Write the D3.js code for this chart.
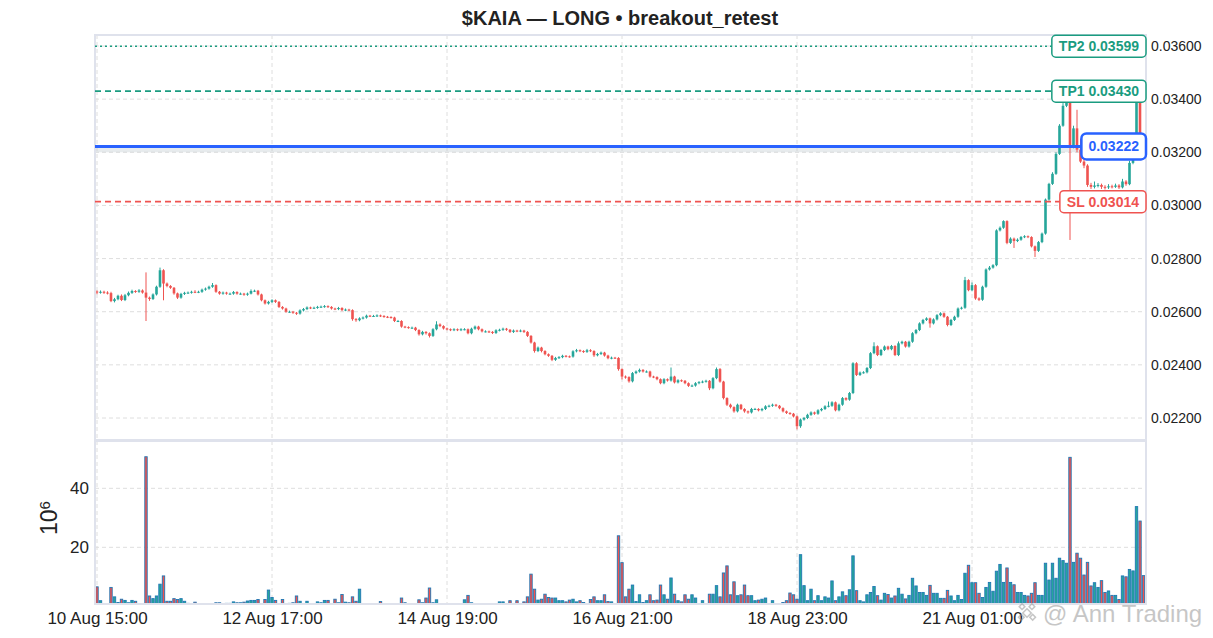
<!DOCTYPE html>
<html>
<head>
<meta charset="utf-8">
<script src="https://cdn.jsdelivr.net/npm/d3@7"></script>
<style>
body { margin: 0; background: #fff; font-family: "Liberation Sans", Arial, sans-serif; }
</style>
</head>
<body>
<script>

// hourly candles from 10 Aug 15:00, prices in units of 0.00001
var PRICE_UNIT = 1e-5;

var openP = [
2676,2673,2675,2672,2670,2640,2647,2660,2644,2662, 2671,2678,2675,2680,2672,2653,2648,2665,2694,2756,
2706,2697,2690,2669,2653,2667,2671,2672,2675,2674, 2675,2683,2687,2694,2700,2675,2668,2672,2668,2668,
2674,2668,2668,2664,2668,2678,2679,2665,2643,2631, 2637,2643,2637,2618,2612,2600,2600,2596,2593,2605,
2610,2616,2614,2615,2618,2619,2621,2618,2612,2610, 2614,2606,2608,2606,2572,2568,2575,2578,2585,2584,
2584,2586,2584,2581,2580,2578,2565,2565,2544,2542, 2540,2540,2531,2515,2524,2519,2509,2534,2552,2546,
2537,2534,2531,2534,2531,2534,2534,2519,2536,2544, 2534,2526,2526,2524,2520,2530,2532,2536,2532,2524,
2529,2527,2529,2524,2509,2484,2452,2465,2452,2440, 2434,2419,2426,2429,2434,2432,2431,2451,2455,2452,
2449,2455,2452,2436,2441,2446,2435,2425,2427,2426, 2384,2356,2354,2338,2369,2375,2381,2375,2375,2356,
2354,2346,2331,2346,2341,2356,2334,2342,2340,2331, 2321,2322,2331,2335,2337,2340,2312,2350,2384,2337,
2275,2250,2241,2225,2250,2234,2225,2221,2234,2234, 2229,2234,2244,2246,2250,2246,2237,2225,2219,2216,
2206,2169,2194,2200,2212,2221,2216,2229,2234,2244, 2246,2259,2229,2250,2275,2269,2294,2406,2362,2371,
2372,2388,2444,2470,2437,2456,2469,2459,2471,2437, 2481,2487,2469,2487,2519,2531,2556,2569,2575,2556,
2571,2587,2594,2581,2550,2569,2581,2612,2615,2719, 2681,2700,2650,2645,2694,2759,2766,2775,2906,2916,
2941,2859,2875,2866,2871,2881,2884,2881,2846,2829, 2862,2894,3022,3081,3119,3194,3300,3375,3400,3222,
3290,3210,3165,3150,3077,3070,3075,3077,3070,3068, 3072,3070,3075,3068,3090,3080,3160,3185,3400,3195
];

var highP = [
2680,2680,2679,2677,2675,2652,2664,2665,2667,2676, 2683,2681,2685,2684,2748,2657,2669,2698,2766,2760,
2710,2700,2693,2672,2671,2675,2676,2679,2681,2679, 2687,2691,2698,2708,2703,2678,2676,2675,2672,2678,
2677,2672,2671,2672,2684,2683,2682,2668,2646,2641, 2647,2646,2640,2621,2615,2604,2603,2599,2609,2614,
2620,2619,2619,2622,2623,2625,2624,2621,2615,2618, 2617,2612,2611,2609,2576,2579,2582,2589,2588,2588,
2590,2589,2587,2584,2583,2581,2569,2568,2547,2545, 2544,2543,2534,2528,2527,2522,2538,2564,2556,2549,
2540,2537,2538,2537,2538,2538,2537,2540,2548,2547, 2537,2530,2529,2527,2534,2536,2540,2539,2535,2533,
2532,2533,2532,2527,2512,2487,2469,2468,2455,2443, 2437,2430,2433,2438,2437,2435,2455,2460,2458,2455,
2460,2459,2455,2445,2450,2449,2438,2431,2430,2429, 2387,2360,2357,2373,2379,2386,2384,2379,2378,2359,
2357,2349,2350,2349,2390,2359,2346,2345,2343,2334, 2326,2335,2339,2341,2344,2343,2354,2390,2388,2340,
2278,2254,2244,2254,2253,2237,2228,2238,2238,2237, 2238,2248,2250,2254,2253,2249,2240,2228,2222,2219,
2209,2198,2204,2216,2225,2224,2233,2238,2248,2262, 2263,2262,2254,2279,2278,2298,2410,2410,2375,2376,
2392,2448,2485,2473,2460,2473,2472,2475,2474,2488, 2491,2490,2491,2523,2535,2560,2573,2579,2578,2575,
2591,2598,2597,2584,2573,2585,2616,2619,2731,2722, 2710,2704,2654,2698,2763,2772,2779,2910,2921,2944,
2944,2880,2879,2876,2885,2888,2887,2884,2849,2866, 2898,3026,3085,3125,3200,3306,3385,3440,3420,3300,
3360,3250,3175,3155,3085,3090,3084,3082,3076,3080, 3078,3082,3080,3100,3095,3168,3200,3420,3405,3205
];

var lowP = [
2666,2668,2667,2665,2636,2635,2643,2640,2640,2658, 2667,2671,2671,2668,2565,2641,2644,2661,2690,2643,
2692,2686,2664,2648,2649,2663,2667,2668,2670,2670, 2671,2679,2683,2690,2671,2664,2664,2664,2664,2664,
2664,2664,2660,2660,2665,2674,2661,2639,2627,2627, 2633,2633,2614,2608,2596,2596,2592,2588,2589,2601,
2606,2610,2610,2611,2614,2615,2614,2608,2606,2606, 2602,2602,2602,2566,2562,2564,2571,2574,2580,2580,
2580,2580,2577,2576,2574,2561,2561,2540,2538,2536, 2535,2527,2510,2511,2514,2503,2505,2530,2542,2533,
2530,2527,2527,2527,2527,2530,2515,2515,2532,2530, 2522,2522,2520,2516,2516,2526,2528,2528,2520,2520,
2523,2523,2520,2505,2480,2446,2448,2447,2436,2430, 2414,2415,2422,2425,2428,2427,2427,2447,2448,2445,
2445,2448,2430,2432,2437,2431,2421,2421,2422,2378, 2345,2348,2333,2334,2365,2371,2371,2371,2352,2350,
2342,2327,2327,2337,2337,2330,2330,2336,2327,2317, 2317,2318,2327,2331,2333,2305,2308,2346,2333,2270,
2245,2236,2220,2221,2230,2220,2216,2217,2230,2225, 2225,2230,2240,2242,2242,2233,2221,2215,2212,2202,
2157,2163,2190,2196,2208,2212,2212,2225,2230,2240, 2242,2225,2225,2246,2265,2265,2290,2358,2358,2367,
2368,2384,2440,2433,2433,2452,2455,2455,2433,2433, 2477,2465,2465,2483,2515,2527,2552,2565,2540,2552,
2567,2583,2577,2545,2546,2565,2577,2608,2611,2677, 2677,2645,2640,2641,2690,2755,2762,2771,2902,2912,
2854,2855,2840,2862,2867,2877,2877,2842,2806,2825, 2858,2890,3018,3077,3115,3190,3296,3370,2870,3215,
3200,3160,3140,3070,3062,3064,3068,3062,3060,3062, 3064,3066,3062,3064,3074,3076,3155,3180,3190,3185
];

var closeP = [
2673,2675,2672,2670,2640,2647,2660,2644,2662,2671, 2678,2675,2680,2672,2653,2648,2665,2694,2756,2706,
2697,2690,2669,2653,2667,2671,2672,2675,2674,2675, 2683,2687,2694,2700,2675,2668,2672,2668,2668,2674,
2668,2668,2664,2668,2678,2679,2665,2643,2631,2637, 2643,2637,2618,2612,2600,2600,2596,2593,2605,2610,
2616,2614,2615,2618,2619,2621,2618,2612,2610,2614, 2606,2608,2606,2572,2568,2575,2578,2585,2584,2584,
2586,2584,2581,2580,2578,2565,2565,2544,2542,2540, 2540,2531,2515,2524,2519,2509,2534,2552,2546,2537,
2534,2531,2534,2531,2534,2534,2519,2536,2544,2534, 2526,2526,2524,2520,2530,2532,2536,2532,2524,2529,
2527,2529,2524,2509,2484,2452,2465,2452,2440,2434, 2419,2426,2429,2434,2432,2431,2451,2455,2452,2449,
2455,2452,2436,2441,2446,2435,2425,2427,2426,2384, 2356,2354,2338,2369,2375,2381,2375,2375,2356,2354,
2346,2331,2346,2341,2356,2334,2342,2340,2331,2321, 2322,2331,2335,2337,2340,2312,2350,2384,2337,2275,
2250,2241,2225,2250,2234,2225,2221,2234,2234,2229, 2234,2244,2246,2250,2246,2237,2225,2219,2216,2206,
2169,2194,2200,2212,2221,2216,2229,2234,2244,2246, 2259,2229,2250,2275,2269,2294,2406,2362,2371,2372,
2388,2444,2470,2437,2456,2469,2459,2471,2437,2481, 2487,2469,2487,2519,2531,2556,2569,2575,2556,2571,
2587,2594,2581,2550,2569,2581,2612,2615,2719,2681, 2700,2650,2645,2694,2759,2766,2775,2906,2916,2941,
2859,2875,2866,2871,2881,2884,2881,2846,2829,2862, 2894,3022,3081,3119,3194,3300,3375,3400,3222,3290,
3210,3165,3150,3077,3070,3075,3077,3070,3068,3072, 3070,3075,3068,3090,3080,3160,3185,3400,3195,3192
];

// volume in millions
var volume = [
6.6,1.9,0.3,0.3,6.4,3.2,1.3,2.4,2.0,1.2, 2.0,1.7,0.3,0.3,50.7,3.5,2.6,3.5,7.5,10.3,
1.7,1.7,2.6,2.3,2.6,1.7,1.0,0.2,1.4,0.8, 0.5,0.4,0.5,0.6,1.2,1.2,0.6,1.0,1.0,1.5,
1.2,1.2,1.4,1.8,2.0,2.0,2.3,0.3,2.3,5.5, 3.0,2.0,0.8,2.3,0.2,1.0,1.2,3.5,1.7,0.5,
1.7,0.5,0.5,1.5,1.2,2.0,2.0,0.5,2.4,1.2, 4.0,1.4,1.2,3.2,1.7,5.8,0.4,0.4,0.6,0.5,
0.6,1.6,0.5,0.5,0.4,0.5,0.6,2.8,1.2,0.6, 0.8,0.5,2.2,1.2,2.8,6.2,1.2,2.2,0.4,0.5,
0.4,0.4,0.6,0.5,0.7,2.2,3.7,1.2,0.5,0.6, 0.5,0.4,0.5,0.6,0.8,1.5,1.5,0.8,1.9,0.8,
1.9,0.8,1.5,3.2,10.9,5.8,2.1,2.4,4.1,3.0, 2.8,2.8,1.9,1.9,1.5,2.1,2.4,1.5,1.9,1.3,
0.8,2.3,3.2,1.9,1.9,3.9,1.6,1.5,0.8,23.9, 14.8,3.2,5.8,7.2,1.6,3.9,1.3,1.9,3.9,1.9,
2.1,7.2,3.9,2.4,9.6,4.1,1.9,1.5,3.9,2.4, 3.9,2.8,0.6,1.9,0.5,4.1,4.1,7.0,3.2,11.3,
13.7,3.9,8.3,3.6,3.9,7.2,3.6,3.6,1.9,2.1, 2.4,2.8,0.4,1.9,0.5,0.6,1.3,1.9,4.5,3.9,
2.4,17.5,7.0,1.9,5.8,1.9,3.6,1.9,3.2,2.8, 8.6,1.9,3.2,4.9,3.6,5.6,17.1,5.3,1.9,1.5,
3.9,4.7,6.7,3.6,2.1,4.4,4.0,2.8,3.5,6.1, 4.1,2.5,3.7,9.5,6.9,4.7,4.7,3.7,7.1,4.4,
4.4,2.7,2.7,5.4,3.5,1.9,3.7,2.3,11.2,13.9, 8.0,8.0,4.4,3.0,6.4,8.1,5.1,11.9,14.2,8.1,
13.0,8.1,7.3,4.7,4.7,3.7,3.5,4.4,8.0,3.7, 3.7,14.6,8.9,14.6,9.5,16.3,15.5,14.6,50.5,14.9,
18.0,16.3,10.6,14.9,6.9,8.0,6.4,8.7,4.7,5.2, 3.7,3.7,2.3,10.3,10.0,12.5,12.0,33.8,28.9,10.4
];

var tickIdx = [0, 50, 100, 150, 200, 250];
var tickLabels = ["10 Aug 15:00", "12 Aug 17:00", "14 Aug 19:00", "16 Aug 21:00", "18 Aug 23:00", "21 Aug 01:00"];
var priceTicks = [0.022, 0.024, 0.026, 0.028, 0.030, 0.032, 0.034, 0.036];
var volTicks = [20, 40];

var levelNames = ["TP2", "TP1", "", "SL"];
var levelValues = [0.03599, 0.03430, 0.03222, 0.03014];
var entryZoneLow = 0.03200;

var up = "#26a69a", down = "#ef5350", teal = "#1a9c80", blue = "#2962ff";

var width = 1213, height = 638,
    left = 95, right = 1146,
    pTop = 35, pBot = 440,
    vTop = 441, vBot = 604;

var candles = closeP.map(function (c, i) {
    return { i: i, o: openP[i] * PRICE_UNIT, h: highP[i] * PRICE_UNIT,
             l: lowP[i] * PRICE_UNIT, c: c * PRICE_UNIT, v: volume[i] };
});

var x = d3.scaleLinear().domain([0, closeP.length - 1]).range([97, 97 + 3.5 * (closeP.length - 1)]);
var y = d3.scaleLinear().domain([0.022, 0.036]).range([418, 46]);
var yv = d3.scaleLinear().domain([0, 40]).range([606.3, 488.3]);

var svg = d3.select("body").append("svg")
    .attr("width", width)
    .attr("height", height)
    .style("font-family", "'Liberation Sans', Arial, sans-serif");

var defs = svg.append("defs");
defs.append("clipPath").attr("id", "clipP").append("rect")
    .attr("x", left).attr("y", pTop).attr("width", right - left).attr("height", pBot - pTop);
defs.append("clipPath").attr("id", "clipV").append("rect")
    .attr("x", left).attr("y", vTop).attr("width", right - left).attr("height", vBot - vTop);

// title
svg.append("text")
    .attr("x", 620).attr("y", 25)
    .attr("text-anchor", "middle")
    .style("font-size", "20px")
    .style("font-weight", "bold")
    .style("fill", "#222")
    .text("$KAIA \u2014 LONG \u2022 breakout_retest");

// grids
var grid = svg.append("g").style("stroke", "#dedede").style("stroke-dasharray", "4,3").style("stroke-width", 1);
grid.selectAll(".hp").data(priceTicks).enter().append("line")
    .attr("x1", left).attr("x2", right)
    .attr("y1", function (d) { return y(d); }).attr("y2", function (d) { return y(d); });
grid.selectAll(".hv").data(volTicks).enter().append("line")
    .attr("x1", left).attr("x2", right)
    .attr("y1", function (d) { return yv(d); }).attr("y2", function (d) { return yv(d); });
grid.selectAll(".vp").data(tickIdx).enter().append("line")
    .attr("x1", function (d) { return x(d); }).attr("x2", function (d) { return x(d); })
    .attr("y1", pTop).attr("y2", pBot);
grid.selectAll(".vv").data(tickIdx).enter().append("line")
    .attr("x1", function (d) { return x(d); }).attr("x2", function (d) { return x(d); })
    .attr("y1", vTop).attr("y2", vBot);

// entry zone band
svg.append("rect")
    .attr("x", left).attr("width", right - left)
    .attr("y", y(levelValues[2])).attr("height", y(entryZoneLow) - y(levelValues[2]))
    .style("fill", "#b0bec5").style("opacity", 0.3);

// candles
var cg = svg.append("g").attr("clip-path", "url(#clipP)");
cg.selectAll(".wick").data(candles).enter().append("line")
    .attr("x1", function (d) { return x(d.i); }).attr("x2", function (d) { return x(d.i); })
    .attr("y1", function (d) { return y(d.h); }).attr("y2", function (d) { return y(d.l); })
    .style("stroke", function (d) { return d.c >= d.o ? up : down; })
    .style("stroke-width", 1);
cg.selectAll(".body").data(candles).enter().append("rect")
    .attr("x", function (d) { return x(d.i) - 1.3; })
    .attr("width", 2.6)
    .attr("y", function (d) { return y(Math.max(d.o, d.c)); })
    .attr("height", function (d) { return Math.max(1, Math.abs(y(d.o) - y(d.c))); })
    .style("fill", function (d) { return d.c >= d.o ? up : down; });

// volume
var vg = svg.append("g").attr("clip-path", "url(#clipV)");
vg.selectAll(".vol").data(candles).enter().append("rect")
    .attr("x", function (d) { return x(d.i) - 1.2; })
    .attr("width", 2.4)
    .attr("y", function (d) { return yv(d.v); })
    .attr("height", function (d) { return yv(0) - yv(d.v); })
    .style("fill", function (d) { return d.c >= d.o ? up : down; })
    .style("stroke", "#1f77b4")
    .style("stroke-width", 0.9);

// panel frames
svg.append("rect").attr("x", left).attr("y", pTop).attr("width", right - left).attr("height", pBot - pTop)
    .style("fill", "none").style("stroke", "#dfe2ec").style("stroke-width", 2);
svg.append("rect").attr("x", left).attr("y", vTop).attr("width", right - left).attr("height", vBot - vTop)
    .style("fill", "none").style("stroke", "#dfe2ec").style("stroke-width", 2);

// level lines with labels
var levelStyle = [
    { color: teal, dash: "2,3", w: 1.6 },
    { color: teal, dash: "6,4", w: 1.7 },
    { color: blue, dash: null, w: 3 },
    { color: down, dash: "6,4", w: 1.8 }
];
levelValues.forEach(function (v, k) {
    var st = levelStyle[k];
    svg.append("line")
        .attr("x1", left).attr("x2", right - 10)
        .attr("y1", y(v)).attr("y2", y(v))
        .style("stroke", st.color)
        .style("stroke-width", st.w)
        .style("stroke-dasharray", st.dash);
});
levelValues.forEach(function (v, k) {
    var st = levelStyle[k];
    var isEntry = (k === 2);
    var g = svg.append("g");
    var box = g.append("rect");
    var t = g.append("text")
        .attr("y", y(v))
        .attr("dy", "0.35em")
        .attr("text-anchor", "end")
        .attr("x", right - 7)
        .style("font-size", "14px")
        .style("font-weight", "bold")
        .style("fill", st.color)
        .text((levelNames[k] ? levelNames[k] + " " : "") + v.toFixed(5));
    var tw = t.node().getComputedTextLength();
    var bh = isEntry ? 26 : 22;
    box.attr("x", right - 7 - tw - 7).attr("width", tw + 14)
        .attr("y", y(v) - bh / 2).attr("height", bh)
        .attr("rx", isEntry ? 5 : 4)
        .style("fill", "#fff")
        .style("stroke", st.color)
        .style("stroke-width", isEntry ? 2.5 : 1.5);
});

// axes
var axP = svg.append("g").attr("transform", "translate(" + right + ",0)")
    .call(d3.axisRight(y).tickValues(priceTicks).tickFormat(d3.format(".5f")).tickSize(0).tickPadding(5));
var axV = svg.append("g").attr("transform", "translate(" + left + ",0)")
    .call(d3.axisLeft(yv).tickValues(volTicks).tickSize(0).tickPadding(6));
var axX = svg.append("g").attr("transform", "translate(0," + vBot + ")")
    .call(d3.axisBottom(x).tickValues(tickIdx).tickFormat(function (d, i) { return tickLabels[i]; })
        .tickSize(0).tickPadding(8));
[axP, axV, axX].forEach(function (a) {
    a.select(".domain").remove();
    a.selectAll("text").style("fill", "#222").style("font-family", "'Liberation Sans', Arial, sans-serif");
});
axP.selectAll("text").style("font-size", "14px");
axV.selectAll("text").style("font-size", "17px");
axX.selectAll("text").style("font-size", "17px");

// volume exponent label
var ex = svg.append("text")
    .attr("transform", "translate(57,518) rotate(-90)")
    .attr("text-anchor", "middle")
    .style("font-size", "23px")
    .style("fill", "#222");
ex.append("tspan").text("10");
ex.append("tspan").attr("dy", "-0.5em").style("font-size", "15px").text("6");

// watermark
var wm = svg.append("g").style("opacity", 0.55);
wm.append("g").attr("transform", "translate(1027,613) rotate(45)")
    .selectAll("rect").data([[-3, -3, 6], [-10, -3, 4], [5, -3, 4], [-3, -10, 4], [-3, 5, 4]]).enter()
    .append("rect")
    .attr("x", function (d) { return d[0]; }).attr("y", function (d) { return d[1]; })
    .attr("width", function (d) { return d[2]; }).attr("height", function (d) { return d[2]; })
    .style("fill", "none").style("stroke", "#999").style("stroke-width", 1.5);
wm.append("text")
    .attr("x", 1043).attr("y", 622)
    .style("font-size", "24px")
    .style("fill", "#999")
    .text("@ Ann Trading");

</script>
</body>
</html>
